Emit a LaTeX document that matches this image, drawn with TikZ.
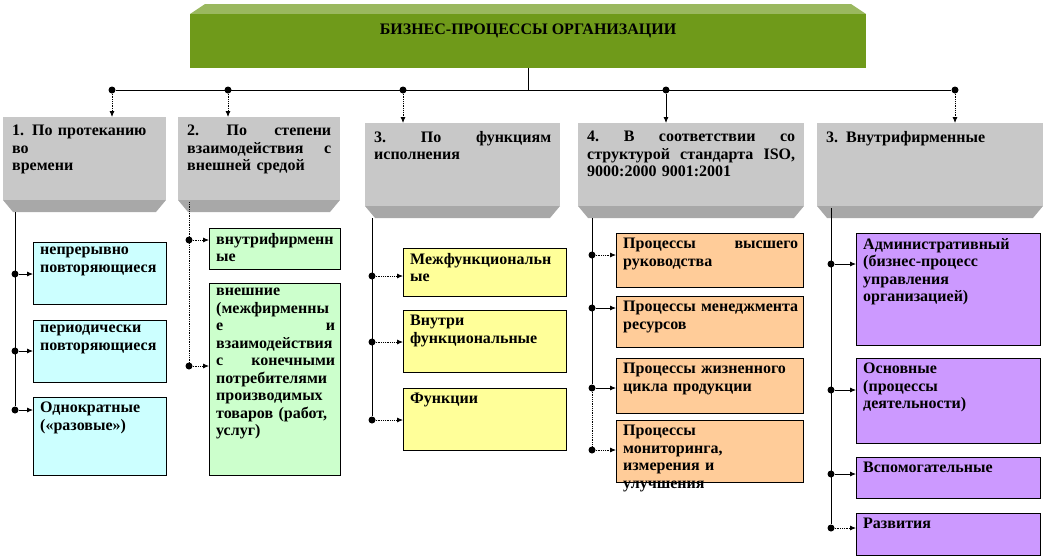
\documentclass[tikz,border=0pt]{standalone}
\usepackage{fontspec}
\setmainfont{Liberation Serif}
\usetikzlibrary{arrows.meta}
\definecolor{cc}{HTML}{CCFFFF}
\definecolor{cg}{HTML}{CCFFCC}
\definecolor{cy}{HTML}{FFFF99}
\definecolor{co}{HTML}{FFCC99}
\definecolor{cp}{HTML}{CC99FF}
\definecolor{hg}{HTML}{6F9A1A}
\definecolor{gface}{HTML}{C8C8C8}
\definecolor{gbev}{HTML}{A8A8A8}
\tikzset{
  box/.style={draw=black,anchor=north west,inner sep=0pt},
  txt/.style={anchor=north west,inner sep=0pt,align=left,font=\fontsize{16}{17.5}\selectfont\bfseries},
  dot/.style={circle,fill=black,inner sep=0pt,minimum size=7pt},
  ar/.style={-{Latex[length=6pt,width=5pt]},thick},
  ln/.style={thick},
}
\newcommand{\bx}[7]{% name,x,y,w,h,color,text
  \node[box,fill=#6,minimum width=#4pt,minimum height=#5pt] (#1) at (#2,#3) {};
  \node[txt,text width=#4pt-12pt] (#1t) at ([xshift=7pt,yshift=-5pt]#1.north west) {#7};}
\newcommand{\cat}[6]{% name,x,y,w,text, bottom
  \fill[gbev] (#2,#6-12) -- (#2+#4,#6-12) -- (#2+#4-10,#6) -- (#2+10,#6) -- cycle;
  \node[box,draw=none,fill=gface,minimum width=#4pt,minimum height=#6pt-12pt-#3pt] (#1) at (#2,#3) {};
  \node[txt,text width=#4pt-18pt] (#1t) at ([xshift=9pt,yshift=-8pt]#1.north west) {#5};}
\begin{document}
\begin{tikzpicture}[x=1pt,y=-1pt]
\useasboundingbox (0,0) rectangle (1046,558);
% header
\fill[hg!70!white] (205,4) -- (851,4) -- (866,14) -- (190,14) -- cycle;
\node[box,draw=none,fill=hg,minimum width=676pt,minimum height=54pt] (h) at (190,14) {};
\node[font=\fontsize{16}{18}\selectfont\bfseries] at (528,31) {БИЗНЕС-ПРОЦЕССЫ ОРГАНИЗАЦИИ};
% categories
\cat{c1}{3}{117}{163}{1. По протеканию во\\ времени}{212}
\cat{c2}{178}{117}{162}{2.\hfill По\hfill степени\\ взаимодействия\hfill с\\ внешней средой}{212}
\cat{c3}{365}{123}{195}{3.\hfill По\hfill функциям\\ исполнения}{218}
\cat{c4}{578}{123}{226}{4.\hfill В\hfill соответствии\hfill со\\ структурой\hfill стандарта\hfill ISO,\\ 9000:2000 9001:2001}{218}
\cat{c5}{817}{123}{226}{3. Внутрифирменные}{218}
% top connectors
\coordinate (j) at (528,90);
\draw[ln] (h.south-|j) -- (j);
\node[dot] (d1) at (112,90) {};
\node[dot] (d2) at (228,90) {};
\node[dot] (d3) at (403,90) {};
\node[dot] (d4) at (666,90) {};
\node[dot] (d5) at (955,90) {};
\draw[ln] (d1) -- (d5);
\draw[ar,densely dotted] (d1) -- (d1|-c1.north);
\draw[ar,densely dotted] (d2) -- (d2|-c2.north);
\draw[ar,densely dotted] (d3) -- (d3|-c3.north);
\draw[ar] (d4) -- (d4|-c4.north);
\draw[ar,densely dotted] (d5) -- (d5|-c5.north);
% column 1
\bx{a1}{33}{242}{133}{62}{cc}{непрерывно\\ повторяющиеся}
\bx{a2}{33}{320}{133}{62}{cc}{периодически\\ повторяющиеся}
\bx{a3}{33}{397}{133}{78}{cc}{Однократные\\ («разовые»)}
\node[dot] (e1) at (15,274) {};
\node[dot] (e2) at (15,351) {};
\node[dot] (e3) at (15,410) {};
\draw[ln] (15,212) -- (e3);
\foreach \i in {1,2,3} \draw[ar] (e\i) -- (e\i-|a\i.west);
% column 2
\bx{b1}{209}{228}{131}{41}{cg}{внутрифирменн\\ ые}
\bx{b2}{209}{283}{131}{192}{cg}{внешние\\ (межфирменны\\ е\hfill и\\ взаимодействия\\ с\hfill конечными\\ потребителями\\ производимых\\ товаров (работ,\\ услуг)}
\node[dot] (f1) at (189,240) {};
\node[dot] (f2) at (189,366) {};
\draw[ln,densely dotted] (189,202) -- (f2);
\draw[ar,densely dotted] (f1) -- (f1-|b1.west);
\draw[ar,densely dotted] (f2) -- (f2-|b2.west);
% column 3
\bx{g1}{403}{248}{163}{48}{cy}{Межфункциональн\\ ые}
\bx{g2}{403}{310}{163}{62}{cy}{Внутри\\ функциональные}
\bx{g3}{403}{388}{163}{62}{cy}{Функции}
\node[dot] (k1) at (372,276) {};
\node[dot] (k2) at (372,342) {};
\node[dot] (k3) at (372,420) {};
\draw[ln] (372,218) -- (k3);
\foreach \i in {1,2,3} \draw[ar,densely dotted] (k\i) -- (k\i-|g\i.west);
% column 4
\bx{o1}{616}{233}{187}{54}{co}{Процессы\hfill высшего\\ руководства}
\bx{o2}{616}{296}{187}{51}{co}{Процессы менеджмента\\ ресурсов}
\bx{o3}{616}{358}{187}{55}{co}{Процессы жизненного\\ цикла продукции}
\bx{o4}{616}{420}{187}{62}{co}{Процессы мониторинга,\\ измерения и улучшения}
\node[dot] (m1) at (592,255) {};
\node[dot] (m2) at (592,308) {};
\node[dot] (m3) at (592,388) {};
\node[dot] (m4) at (592,450) {};
\draw[ln] (592,218) -- (m3);
\draw[ln,densely dotted] (m3) -- (m4);
\draw[ar,densely dotted] (m1) -- (m1-|o1.west);
\draw[ar] (m2) -- (m2-|o2.west);
\draw[ar] (m3) -- (m3-|o3.west);
\draw[ar,densely dotted] (m4) -- (m4-|o4.west);
% column 5
\bx{p1}{856}{233}{184}{112}{cp}{Административный\\ (бизнес-процесс\\ управления\\ организацией)}
\bx{p2}{856}{358}{184}{85}{cp}{Основные\\ (процессы\\ деятельности)}
\bx{p3}{856}{457}{184}{41}{cp}{Вспомогательные}
\bx{p4}{856}{513}{184}{42}{cp}{Развития}
\node[dot] (q1) at (831,264) {};
\node[dot] (q2) at (831,390) {};
\node[dot] (q3) at (831,474) {};
\node[dot] (q4) at (831,528) {};
\draw[ln] (831,208) -- (q4);
\draw[ar] (q1) -- (q1-|p1.west);
\draw[ar] (q2) -- (q2-|p2.west);
\draw[ar] (q3) -- (q3-|p3.west);
\draw[ar,densely dotted] (q4) -- (q4-|p4.west);
\end{tikzpicture}
\end{document}
